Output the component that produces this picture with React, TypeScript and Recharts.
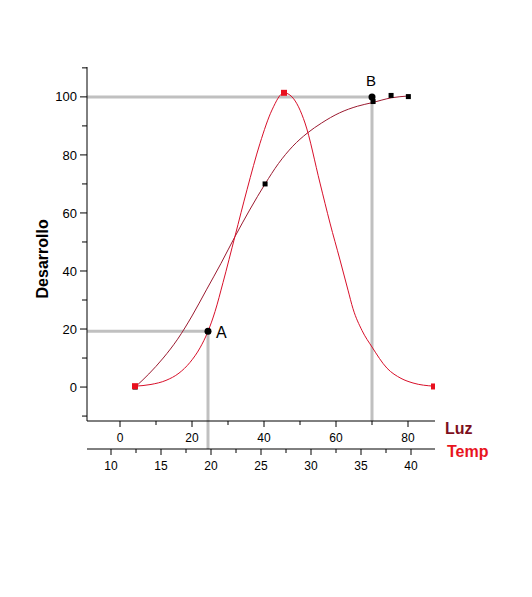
import React from 'react';
import { ComposedChart, Line, Scatter, XAxis, YAxis, ReferenceLine } from 'recharts';

// Luz curve (x = luz, y = desarrollo)
const luzX = [4.2, 8, 12, 16, 20, 24, 28, 32, 36, 40.3, 44, 48, 52, 56, 61, 66, 70, 75.5, 80];
const luzY = [0, 4.5, 10, 16.5, 24.5, 33.5, 42.5, 52, 61, 70, 77, 83, 87.5, 91, 94.5, 96.8, 98, 99.7, 100.3];
const luzMarkX = [4.2, 40.3, 70.3, 75.3, 80.1];
const luzMarkY = [0, 70, 98.4, 100.5, 100.1];

// Temp curve (x = temp, y = desarrollo)
const tempX = [12.4, 14, 15.5, 16.8, 17.9, 18.9, 19.7, 20.4, 21.2, 22.4, 23.6, 24.9, 26.1, 27.3, 28.1, 29.4, 30.9, 31.9, 32.9, 33.7, 34.2, 35.1, 36.1, 37.6, 39, 40.2, 42.3];
const tempY = [0.3, 0.9, 2.3, 4.8, 8.5, 13.5, 19.2, 26, 36, 52, 68, 84, 95.5, 101.4, 100, 91, 70.3, 56.5, 43.8, 33.4, 27, 19.5, 13.8, 6.5, 3, 1.4, 0.3];
const tempMarkX = [12.4, 27.3, 42.3];
const tempMarkY = [0.3, 101.4, 0.2];

// marked points: A lies on the temp curve, B on the luz curve
const pointA = { name: 'A', x: 19.7, y: 19.2 };
const pointB = { name: 'B', x: 70, y: 100 };

const luzTicks = [0, 10, 20, 30, 40, 50, 60, 70, 80];
const tempTicks = [10, 12.5, 15, 17.5, 20, 22.5, 25, 27.5, 30, 32.5, 35, 37.5, 40];
const yTicks = [-10, 0, 10, 20, 30, 40, 50, 60, 70, 80, 90, 100, 110];

const LUZ_DOMAIN = [-9.17, 87.5];
const TEMP_DOMAIN = [7.6, 42.4];
const Y_DOMAIN = [-11.7, 110.3];

const zip = (xs: number[], ys: number[]) => xs.map((x, i) => ({ x, y: ys[i] }));

const luzCurve = zip(luzX, luzY);
const luzMarks = zip(luzMarkX, luzMarkY);
const tempCurve = zip(tempX, tempY);
const tempMarks = zip(tempMarkX, tempMarkY);

const FONT = '"Liberation Sans", Arial, sans-serif';
const GRAY = '#c0c0c0';

const YTick = ({ x, y, payload }: any) => {
  const major = payload.value % 20 === 0;
  return (
    <g>
      <line x1={x - (major ? 7 : 5)} x2={x} y1={y} y2={y} stroke="#000" />
      {major && (
        <text x={x - 10} y={y + 4.6} textAnchor="end" fontSize={13} fontFamily={FONT} fill="#000">
          {payload.value}
        </text>
      )}
    </g>
  );
};

const makeXTick = (step: number) => ({ x, y, payload }: any) => {
  const major = payload.value % step === 0;
  return (
    <g>
      <line x1={x} x2={x} y1={y} y2={y + (major ? 6 : 4)} stroke="#000" />
      {major && (
        <text x={x} y={y + 21} textAnchor="middle" fontSize={12} fontFamily={FONT} fill="#000">
          {payload.value}
        </text>
      )}
    </g>
  );
};

const LuzTick = makeXTick(20);
const TempTick = makeXTick(5);

const squareShape = (size: number, color: string) => (p: any) => (
  <rect x={p.cx - size / 2} y={p.cy - size / 2} width={size} height={size} fill={color} />
);

const PointShape = (p: any) => {
  const isA = p.payload.name === 'A';
  return (
    <g>
      <circle cx={p.cx} cy={p.cy} r={3.5} fill="#000" />
      <text
        x={isA ? p.cx + 8 : p.cx - 1}
        y={isA ? p.cy + 7 : p.cy - 11}
        textAnchor={isA ? 'start' : 'middle'}
        fontSize={isA ? 16 : 15}
        fontFamily={FONT}
        fill="#000"
      >
        {p.payload.name}
      </text>
    </g>
  );
};

const grayLine = (extra: number) => (p: any) => (
  <line
    x1={p.x1}
    y1={p.y1}
    x2={p.x2}
    y2={p.y1 === p.y2 ? p.y2 : Math.max(p.y1, p.y2) + extra}
    stroke={GRAY}
    strokeWidth={3}
  />
);

const App = () => (
  <ComposedChart
    width={524}
    height={589}
    margin={{ top: 59, right: 97, bottom: 118, left: 0 }}
    style={{ fontFamily: FONT }}
  >
    <XAxis
      xAxisId="luz"
      dataKey="x"
      type="number"
      domain={LUZ_DOMAIN}
      allowDataOverflow
      ticks={luzTicks}
      interval={0}
      tickSize={0}
      tickMargin={0}
      tickLine={false}
      tick={<LuzTick />}
      height={28}
      axisLine={{ stroke: '#000' }}
      label={{
        content: ({ viewBox }: any) => (
          <text
            x={viewBox.x + viewBox.width + 10}
            y={viewBox.y + 13}
            fontSize={16}
            fontWeight="bold"
            fontFamily={FONT}
            fill="#7d0f1d"
          >
            Luz
          </text>
        ),
      }}
    />
    <XAxis
      xAxisId="temp"
      dataKey="x"
      type="number"
      domain={TEMP_DOMAIN}
      allowDataOverflow
      ticks={tempTicks}
      interval={0}
      tickSize={0}
      tickMargin={0}
      tickLine={false}
      tick={<TempTick />}
      height={30}
      axisLine={{ stroke: '#000' }}
      label={{
        content: ({ viewBox }: any) => (
          <text
            x={viewBox.x + viewBox.width + 12}
            y={viewBox.y + 8}
            fontSize={16}
            fontWeight="bold"
            fontFamily={FONT}
            fill="#e8141e"
          >
            Temp
          </text>
        ),
      }}
    />
    <YAxis
      dataKey="y"
      type="number"
      domain={Y_DOMAIN}
      allowDataOverflow
      ticks={yTicks}
      interval={0}
      tickSize={0}
      tickMargin={0}
      tickLine={false}
      tick={<YTick />}
      width={79}
      axisLine={{ stroke: '#000' }}
      label={{
        content: ({ viewBox }: any) => {
          const lx = viewBox.x + 40;
          const ly = viewBox.y + viewBox.height * 0.542;
          return (
            <text
              x={lx}
              y={ly}
              transform={`rotate(-90, ${lx}, ${ly})`}
              textAnchor="middle"
              fontSize={16}
              fontWeight="bold"
              fontFamily={FONT}
              fill="#000"
            >
              Desarrollo
            </text>
          );
        },
      }}
    />

    {/* gray guide lines to A and B */}
    <ReferenceLine
      xAxisId="luz"
      segment={[{ x: LUZ_DOMAIN[0], y: pointB.y }, { x: pointB.x, y: pointB.y }]}
      ifOverflow="visible"
      shape={grayLine(0)}
    />
    <ReferenceLine
      xAxisId="luz"
      segment={[{ x: pointB.x, y: pointB.y }, { x: pointB.x, y: Y_DOMAIN[0] }]}
      ifOverflow="visible"
      shape={grayLine(0)}
    />
    <ReferenceLine
      xAxisId="temp"
      segment={[{ x: TEMP_DOMAIN[0], y: pointA.y }, { x: pointA.x, y: pointA.y }]}
      ifOverflow="visible"
      shape={grayLine(0)}
    />
    <ReferenceLine
      xAxisId="temp"
      segment={[{ x: pointA.x, y: pointA.y }, { x: pointA.x, y: Y_DOMAIN[0] }]}
      ifOverflow="visible"
      shape={grayLine(28)}
    />

    <Line
      xAxisId="luz"
      data={luzCurve}
      dataKey="y"
      type="monotone"
      stroke="#9b1a30"
      strokeWidth={1}
      dot={false}
      activeDot={false}
      isAnimationActive={false}
    />
    <Line
      xAxisId="temp"
      data={tempCurve}
      dataKey="y"
      type="monotone"
      stroke="#d8102a"
      strokeWidth={1}
      dot={false}
      activeDot={false}
      isAnimationActive={false}
    />
    <Scatter
      xAxisId="luz"
      data={luzMarks}
      dataKey="y"
      shape={squareShape(5, '#000')}
      isAnimationActive={false}
    />
    <Scatter
      xAxisId="temp"
      data={tempMarks}
      dataKey="y"
      shape={squareShape(6, '#e8101e')}
      isAnimationActive={false}
    />
    <Scatter xAxisId="temp" data={[pointA]} dataKey="y" shape={PointShape} isAnimationActive={false} />
    <Scatter xAxisId="luz" data={[pointB]} dataKey="y" shape={PointShape} isAnimationActive={false} />
  </ComposedChart>
);

export default App;
